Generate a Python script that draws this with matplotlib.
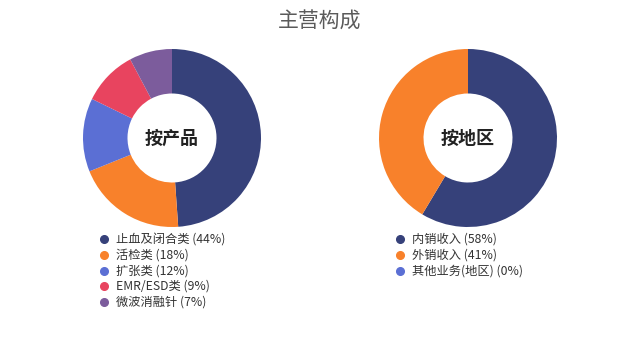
import matplotlib.pyplot as plt
from matplotlib.lines import Line2D

plt.rcParams['font.family'] = ['Noto Sans CJK SC', 'DejaVu Sans']

# data
product_names = ['止血及闭合类', '活检类', '扩张类', 'EMR/ESD类', '微波消融针']
product_pct = [44, 18, 12, 9, 7]
region_names = ['内销收入', '外销收入', '其他业务(地区)']
region_pct = [58, 41, 0]

colors = ['#36417a', '#f8812b', '#5b6fd4', '#e8445f', '#7c5c9c']

W, H = 640, 355
fig = plt.figure(figsize=(W / 100, H / 100), dpi=100)
fig.patch.set_facecolor('white')

fig.text(320 / W, 1 - 22 / H, '主营构成', ha='center', va='center',
         fontsize=15, color='#5a5a5a', fontweight='medium')


def donut(cx, cy, r, values, label):
    ax = fig.add_axes([(cx - r) / W, 1 - (cy + r) / H, 2 * r / W, 2 * r / H])
    vals = [v if v > 0 else 1e-9 for v in values]
    ax.pie(vals, colors=colors[:len(vals)], startangle=90, counterclock=False,
           radius=1, wedgeprops=dict(width=0.5, edgecolor='none'))
    ax.set_xlim(-1, 1)
    ax.set_ylim(-1, 1)
    ax.set_aspect('equal')
    ax.text(0, 0, label, ha='center', va='center', fontsize=13,
            color='#222222', fontweight='bold')


def legend(x, y0, names, pcts, step=15.8):
    for i, (n, p) in enumerate(zip(names, pcts)):
        y = y0 + i * step
        fig.add_artist(Line2D([x / W], [1 - y / H], marker='o', markersize=5.5,
                              color=colors[i], linestyle='none',
                              transform=fig.transFigure))
        fig.text((x + 12) / W, 1 - y / H, f'{n} ({p}%)', ha='left',
                 va='center', fontsize=8.8, color='#333333')


donut(172, 138, 89, product_pct, '按产品')
donut(468, 138, 89, region_pct, '按地区')

legend(104, 239, product_names, product_pct)
legend(400, 239, region_names, region_pct)

fig.savefig('out.png', dpi=100)
